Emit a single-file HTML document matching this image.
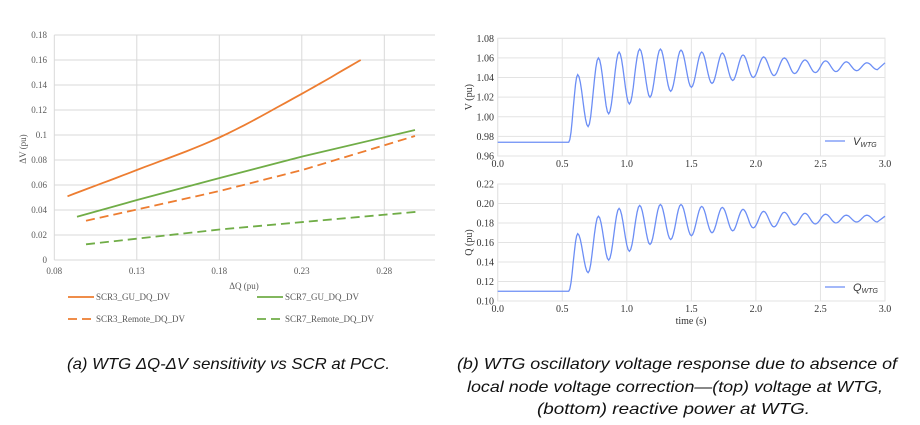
<!DOCTYPE html>
<html><head><meta charset="utf-8"><style>
html,body{margin:0;padding:0;background:#fff;}
svg{display:block;}
.t{font-family:"Liberation Serif",serif;font-size:9px;fill:#595959;}
.r{font-family:"Liberation Serif",serif;font-size:10px;fill:#333;}
.cap{font-family:"Liberation Sans",sans-serif;font-style:italic;font-size:16px;fill:#111;}
</style></head><body>
<svg id="s" width="920" height="425" xmlns="http://www.w3.org/2000/svg">
<g id="left"></g>
<g id="right"></g>
<text class="cap" x="67" y="369" textLength="323" lengthAdjust="spacingAndGlyphs">(a) WTG ΔQ-ΔV sensitivity vs SCR at PCC.</text>
<text class="cap" x="457" y="369" textLength="440" lengthAdjust="spacingAndGlyphs">(b) WTG oscillatory voltage response due to absence of</text>
<text class="cap" x="467" y="392" textLength="416" lengthAdjust="spacingAndGlyphs">local node voltage correction—(top) voltage at WTG,</text>
<text class="cap" x="537" y="414" textLength="273" lengthAdjust="spacingAndGlyphs">(bottom) reactive power at WTG.</text>
</svg>
<script>
const NS="http://www.w3.org/2000/svg";
function el(p,tag,a,txt){const e=document.createElementNS(NS,tag);for(const k in a)e.setAttribute(k,a[k]);if(txt!==undefined)e.textContent=txt;p.appendChild(e);return e;}
// LEFT
const L=document.getElementById('left');
const X=q=>54.3+(q-0.08)*1650, Y=v=>260-v*1250;
for(let i=0;i<=9;i++){const v=i*0.02,y=Y(v);el(L,'line',{x1:54.3,x2:435,y1:y,y2:y,stroke:'#d9d9d9','stroke-width':1});
el(L,'text',{class:'t',x:47,y:y+3,'text-anchor':'end'},i==0?'0':(+v.toFixed(2)).toString());}
[0.08,0.13,0.18,0.23,0.28].forEach(q=>{const x=X(q);el(L,'line',{x1:x,x2:x,y1:35,y2:260,stroke:'#d9d9d9','stroke-width':1});
el(L,'text',{class:'t',x:x,y:274,'text-anchor':'middle'},q.toFixed(2));});
el(L,'text',{class:'t',x:244,y:289,'text-anchor':'middle','font-size':10},'ΔQ (pu)');
el(L,'text',{class:'t',x:0,y:0,'text-anchor':'middle',transform:'translate(26,149) rotate(-90)','font-size':10},'ΔV (pu)');
function curve(pts,col,dash){el(L,'path',{d:'M'+pts.map(p=>p.join(',')).join(' C'.length?' L':''),fill:'none',stroke:col,'stroke-width':1.8,'stroke-dasharray':dash||'none'});}
function smooth(pts,col,dash){let d='M'+pts[0][0]+','+pts[0][1];for(let i=1;i<pts.length;i++)d+=' L'+pts[i][0]+','+pts[i][1];el(L,'path',{d,fill:'none',stroke:col,'stroke-width':1.8,'stroke-dasharray':dash||'none'});}
const OR='#ed7d31',GR='#70ad47';
// SCR3_GU quadratic through points
(function(){const pts=[];const q0=0.088,q1=0.2657;const data=[[0.088,0.051],[0.13,0.072],[0.18,0.098],[0.23,0.133],[0.2657,0.160]];
for(let i=0;i<data.length-1;i++){for(let k=0;k<10;k++){const t=k/10;const a=data[i],b=data[i+1];let v;
// catmull-rom
const p0=data[Math.max(0,i-1)],p3=data[Math.min(data.length-1,i+2)];
const q=a[0]+(b[0]-a[0])*t;
const m1=(b[1]-p0[1])/(b[0]-p0[0])*(b[0]-a[0]),m2=(p3[1]-a[1])/(p3[0]-a[0])*(b[0]-a[0]);
const h00=2*t**3-3*t**2+1,h10=t**3-2*t**2+t,h01=-2*t**3+3*t**2,h11=t**3-t**2;
v=h00*a[1]+h10*m1+h01*b[1]+h11*m2;pts.push([X(q).toFixed(1),Y(v).toFixed(1)]);}}
pts.push([X(0.2657).toFixed(1),Y(0.16).toFixed(1)]);smooth(pts,OR);})();
smooth([[77,216.7],[137,200],[219.7,178],[302.3,156.5],[415,130]],GR);
smooth([[86,220.7],[137,209.5],[219.7,191],[302.3,170],[415,136]],OR,'9,5');
smooth([[86,244.3],[219.7,229.5],[418,211.7]],GR,'9,5');
// legend
[[68,297,OR,'','SCR3_GU_DQ_DV'],[257,297,GR,'','SCR7_GU_DQ_DV'],[68,319,OR,'9,5','SCR3_Remote_DQ_DV'],[257,319,GR,'9,5','SCR7_Remote_DQ_DV']].forEach(a=>{
el(L,'line',{x1:a[0],x2:a[0]+26,y1:a[1],y2:a[1],stroke:a[2],'stroke-width':1.8,'stroke-dasharray':a[3]||'none'});
el(L,'text',{class:'t',x:a[0]+28,y:a[1]+3},a[4]);});
// RIGHT
const R=document.getElementById('right');
const x0=497.7,x1=885,TX=t=>x0+t/3*(x1-x0);
function panel(top,bot,vmin,vmax,labels,flat,peaks,troughs,endv,name,legY,ylab){
const VY=v=>bot-(v-vmin)/(vmax-vmin)*(bot-top);
el(R,'rect',{x:x0,y:top,width:x1-x0,height:bot-top,fill:'none',stroke:'#e6e6e6'});
labels.forEach(v=>{const y=VY(v);el(R,'line',{x1:x0,x2:x1,y1:y,y2:y,stroke:'#e3e3e3'});el(R,'text',{class:'r',x:494,y:y+3.5,'text-anchor':'end'},v.toFixed(2));});
for(let i=0;i<=6;i++){const t=i*0.5,x=TX(t);el(R,'line',{x1:x,x2:x,y1:top,y2:bot,stroke:'#e3e3e3'});el(R,'text',{class:'r',x:x,y:bot+11,'text-anchor':'middle'},t.toFixed(1));}
el(R,'text',{class:'r',x:0,y:0,'text-anchor':'middle',transform:`translate(472,${(top+bot)/2}) rotate(-90)`,'font-size':11},ylab);
const ex=[[0.55,flat]];for(let k=0;k<15;k++){ex.push([0.62+0.16*k,peaks[k]]);ex.push([0.70+0.16*k,troughs[k]]);}
let d=`M${TX(0)},${VY(flat)} L${TX(0.55)},${VY(flat)}`;
for(let i=0;i<ex.length-1;i++){const a=ex[i],b=ex[i+1];for(let k=1;k<=8;k++){const t=k/8;const tt=a[0]+(b[0]-a[0])*t;if(tt>3)break;
const v=a[1]+(b[1]-a[1])*(1-Math.cos(Math.PI*t))/2;d+=` L${TX(tt).toFixed(1)},${VY(v).toFixed(1)}`;}}
d+=` L${TX(3)},${VY(endv)}`;
el(R,'path',{d,fill:'none',stroke:'#6c8ef5','stroke-width':1.3});
el(R,'line',{x1:825,x2:845,y1:legY,y2:legY,stroke:'#6c8ef5','stroke-width':1.3});
const tx=el(R,'text',{x:853,y:legY+4,'font-family':'Liberation Sans,sans-serif','font-style':'italic','font-size':11,fill:'#333'},name);
const ts=el(tx,'tspan',{'font-size':7,dy:2},'WTG');
}
panel(38.3,156,0.96,1.08,[0.96,0.98,1.00,1.02,1.04,1.06,1.08],0.974,
[1.043,1.060,1.066,1.069,1.069,1.068,1.066,1.065,1.063,1.061,1.060,1.058,1.057,1.056,1.055],
[0.990,1.003,1.013,1.020,1.026,1.030,1.034,1.037,1.040,1.042,1.044,1.045,1.046,1.047,1.048],1.055,'V',141,'V (pu)');
panel(184,301,0.10,0.22,[0.10,0.12,0.14,0.16,0.18,0.20,0.22],0.110,
[0.169,0.187,0.195,0.198,0.199,0.199,0.197,0.196,0.194,0.192,0.191,0.190,0.189,0.188,0.188],
[0.129,0.142,0.151,0.158,0.163,0.167,0.170,0.172,0.175,0.176,0.178,0.179,0.180,0.181,0.181],0.187,'Q',287,'Q (pu)');
el(R,'text',{class:'r',x:691,y:324,'text-anchor':'middle','font-size':11},'time (s)');
</script>
</body></html>
